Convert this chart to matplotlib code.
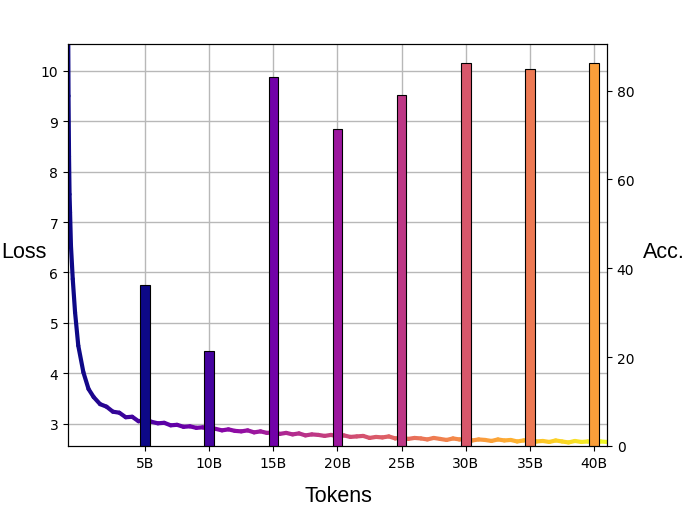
import numpy as np
import matplotlib
matplotlib.use('Agg')
from matplotlib import pyplot as plt
from matplotlib.collections import LineCollection

# bars: accuracy at each checkpoint
ckpt = [5, 10, 15, 20, 25, 30, 35, 40]
ckpt_labels = ['5B', '10B', '15B', '20B', '25B', '30B', '35B', '40B']
acc = [36.2, 21.4, 83.0, 71.4, 79.0, 86.2, 84.8, 86.2]

# loss curve (tokens in B)
tokens = [-1.0, -0.96, -0.92, -0.88, -0.84, -0.77, -0.63, -0.45, -0.2, 0.2, 0.6,
          1.0, 1.5, 2.0, 2.5, 3.0, 3.5, 4.0, 4.5, 5.0, 5.5,
          6.0, 6.5, 7.0, 7.5, 8.0, 8.5, 9.0, 9.5, 10.0, 10.5,
          11.0, 11.5, 12.0, 12.5, 13.0, 13.5, 14.0, 14.5, 15.0, 15.5,
          16.0, 16.5, 17.0, 17.5, 18.0, 18.5, 19.0, 19.5, 20.0, 20.5,
          21.0, 21.5, 22.0, 22.5, 23.0, 23.5, 24.0, 24.5, 25.0, 25.5,
          26.0, 26.5, 27.0, 27.5, 28.0, 28.5, 29.0, 29.5, 30.0, 30.5,
          31.0, 31.5, 32.0, 32.5, 33.0, 33.5, 34.0, 34.5, 35.0, 35.5,
          36.0, 36.5, 37.0, 37.5, 38.0, 38.5, 39.0, 39.5, 40.0, 40.5, 41.0]
loss = [11.5, 9.5, 8.3, 7.55, 7.19, 6.53, 5.87, 5.21, 4.55, 4.02, 3.69,
        3.53, 3.39, 3.34, 3.24, 3.22, 3.13, 3.14, 3.05, 3.08, 3.04,
        3.01, 3.02, 2.97, 2.98, 2.94, 2.95, 2.92, 2.93, 2.89, 2.90,
        2.87, 2.89, 2.86, 2.85, 2.87, 2.83, 2.85, 2.82, 2.83, 2.80,
        2.82, 2.79, 2.81, 2.77, 2.79, 2.78, 2.76, 2.78, 2.75, 2.77,
        2.74, 2.75, 2.76, 2.72, 2.74, 2.73, 2.75, 2.71, 2.73, 2.70,
        2.72, 2.71, 2.69, 2.72, 2.70, 2.68, 2.71, 2.69, 2.70, 2.67,
        2.69, 2.68, 2.66, 2.69, 2.67, 2.68, 2.65, 2.67, 2.68, 2.65,
        2.66, 2.64, 2.67, 2.65, 2.63, 2.66, 2.64, 2.65, 2.63, 2.65, 2.64]

fig = plt.figure(figsize=(6.89, 5.06), dpi=100)
ax1 = fig.add_axes([68/689, 1-447/506, (607-68)/689, (447-45)/506])
ax2 = ax1.twinx()

cmap = plt.cm.plasma
t = np.array(tokens)
pts = np.column_stack([t, loss]).reshape(-1, 1, 2)
segs = np.concatenate([pts[:-1], pts[1:]], axis=1)
norm = plt.Normalize(0, 41)
lc = LineCollection(segs, colors=cmap(norm((t[:-1] + t[1:]) / 2)), linewidths=3.0,
                    capstyle='round', joinstyle='round')
ax1.add_collection(lc)

ax1.set_xlim(-1, 41)
ax1.set_ylim(2.56, 10.53)
ax1.set_yticks(range(3, 11))
ax1.set_xticks(ckpt)
ax1.set_xticklabels(ckpt_labels)
ax1.grid(True, color='#b8b8b8', linewidth=1.0)
ax1.set_axisbelow(True)
ax1.tick_params(labelsize=10)

bar_colors = [cmap(i / 9) for i in range(len(ckpt))]
ax2.bar(ckpt, acc, width=0.75, color=bar_colors,
        edgecolor='black', linewidth=0.8)
ax2.set_ylim(0, 90.5)
ax2.set_yticks([0, 20, 40, 60, 80])
ax2.tick_params(labelsize=10)

fig.text(24/689, 1-258/506, 'Loss', family='Liberation Sans', fontsize=15.5,
         ha='center', va='baseline')
fig.text(664/689, 1-258/506, 'Acc.', family='Liberation Sans', fontsize=15.5,
         ha='center', va='baseline')
fig.text(338/689, 1-502/506, 'Tokens', family='Liberation Sans', fontsize=15.5,
         ha='center', va='baseline')

fig.savefig('out.png', dpi=100)
